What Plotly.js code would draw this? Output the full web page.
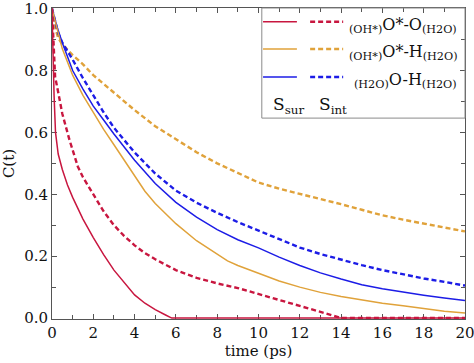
<!DOCTYPE html>
<html>
<head>
<meta charset="utf-8">
<script src="https://cdn.plot.ly/plotly-3.0.1.min.js"></script>
<style>html,body{margin:0;padding:0;background:#fff;}#chart{width:474px;height:363px;}</style>
</head>
<body>
<div id="chart"></div>
<script>
// ---- data ----
const tOOsur = [0, 0.05, 0.1, 0.17, 0.3, 0.5, 0.75, 1, 1.5, 2, 2.5, 3, 3.5, 4, 4.5, 5, 5.5, 5.8, 6, 20];
const cOOsur = [1.0, 0.85, 0.72, 0.6, 0.53, 0.48, 0.43, 0.39, 0.32, 0.26, 0.205, 0.155, 0.115, 0.075, 0.048, 0.027, 0.01, 0.0, 0, 0];
const tOOint = [0, 0.1, 0.15, 0.3, 0.5, 0.85, 1.25, 1.5, 2, 2.5, 3, 3.5, 4, 4.5, 5, 6, 7, 8, 9, 10, 11, 12, 13, 14, 20];
const cOOint = [1.0, 0.83, 0.78, 0.73, 0.66, 0.575, 0.49, 0.455, 0.40, 0.345, 0.30, 0.265, 0.235, 0.21, 0.19, 0.155, 0.13, 0.112, 0.097, 0.078, 0.06, 0.04, 0.02, 0.0, 0];
const tOHsur = [0, 0.25, 0.5, 1, 1.5, 2, 2.5, 3, 3.5, 4, 4.5, 5, 6, 7, 8, 8.5, 9, 10, 11, 12, 13, 14, 15, 16, 17, 18, 19, 20];
const cOHsur = [1.0, 0.93, 0.87, 0.785, 0.72, 0.665, 0.61, 0.56, 0.51, 0.46, 0.41, 0.37, 0.305, 0.25, 0.205, 0.185, 0.17, 0.145, 0.12, 0.10, 0.083, 0.07, 0.058, 0.048, 0.04, 0.03, 0.022, 0.016];
const tOHint = [0, 0.1, 0.3, 0.5, 1, 1.5, 2, 3, 4, 5, 6, 7, 8, 9, 10, 11, 12, 13, 14, 15, 16, 17, 18, 19, 20];
const cOHint = [1.0, 0.95, 0.905, 0.885, 0.85, 0.82, 0.785, 0.728, 0.672, 0.62, 0.577, 0.536, 0.5, 0.468, 0.438, 0.418, 0.402, 0.385, 0.368, 0.35, 0.332, 0.318, 0.306, 0.293, 0.28];
const tHHsur = [0, 0.25, 0.5, 1, 1.5, 2, 2.5, 3, 4, 5, 6, 7, 8, 9, 10, 11, 12, 13, 14, 15, 16, 17, 18, 19, 20];
const cHHsur = [1.0, 0.94, 0.89, 0.8, 0.74, 0.685, 0.64, 0.595, 0.51, 0.435, 0.374, 0.326, 0.286, 0.253, 0.227, 0.197, 0.17, 0.146, 0.126, 0.108, 0.095, 0.084, 0.074, 0.065, 0.057];
const tHHint = [0, 0.3, 0.5, 1, 1.5, 2, 2.5, 3, 4, 5, 6, 7, 8, 9, 10, 11, 12, 13, 14, 15, 16, 17, 18, 19, 20];
const cHHint = [1.0, 0.92, 0.89, 0.835, 0.775, 0.72, 0.665, 0.615, 0.535, 0.467, 0.412, 0.373, 0.34, 0.31, 0.283, 0.255, 0.228, 0.207, 0.188, 0.171, 0.155, 0.141, 0.128, 0.117, 0.105];

const legendLabels = [
  '<sub>(OH*)</sub>O*-O<sub>(H2O)</sub>',
  '<sub>(OH*)</sub>O*-H<sub>(H2O)</sub>',
  '<sub>(H2O)</sub>O-H<sub>(H2O)</sub>'
];
const styleLabels = ['S<sub>sur</sub>', 'S<sub>int</sub>'];
const xTickVals = [0, 2, 4, 6, 8, 10, 12, 14, 16, 18, 20];
const yTickVals = [0, 0.2, 0.4, 0.6, 0.8, 1.0];

// ---- styling ----
const RED = '#c8163f', ORANGE = '#e0a23a', BLUE = '#1c1ce6';
const colors = [RED, ORANGE, BLUE];
const DASH = '5px,3px';
const FONT = 'DejaVu Serif';

function solid(x, y, c) { return {x, y, type: 'scatter', mode: 'lines', line: {color: c, width: 1.5}, showlegend: false, hoverinfo: 'skip'}; }
function dashed(x, y, c) { return {x, y, type: 'scatter', mode: 'lines', line: {color: c, width: 2.4, dash: DASH}, showlegend: false, hoverinfo: 'skip'}; }

const traces = [
  dashed(tOHint, cOHint, ORANGE),
  dashed(tHHint, cHHint, BLUE),
  solid(tHHsur, cHHsur, BLUE),
  solid(tOHsur, cOHsur, ORANGE),
  dashed(tOOint, cOOint, RED),
  solid(tOOsur, cOOsur, RED)
];

// manual legend (two line samples per entry)
const rowY = [0.956, 0.868, 0.778];
const shapes = [{type: 'rect', xref: 'paper', yref: 'paper', x0: 0.508, x1: 1.0, y0: 0.646, y1: 1.0, line: {color: '#8a8a8a', width: 1}, fillcolor: 'rgba(0,0,0,0)'}];
const annotations = [];
rowY.forEach((y, i) => {
  shapes.push({type: 'line', xref: 'paper', yref: 'paper', x0: 0.511, x1: 0.593, y0: y, y1: y, line: {color: colors[i], width: 1.5}});
  shapes.push({type: 'line', xref: 'paper', yref: 'paper', x0: 0.625, x1: 0.705, y0: y, y1: y, line: {color: colors[i], width: 2.4, dash: DASH}});
  annotations.push({xref: 'paper', yref: 'paper', x: i === 2 ? 0.727 : 0.714, y: y - 0.012, xanchor: 'left', yanchor: 'middle', text: legendLabels[i], showarrow: false, font: {family: FONT, size: 16, color: '#111'}});
});
annotations.push({xref: 'paper', yref: 'paper', x: 0.530, y: 0.688, xanchor: 'left', yanchor: 'middle', text: styleLabels[0], showarrow: false, font: {family: FONT, size: 17, color: '#111'}});
annotations.push({xref: 'paper', yref: 'paper', x: 0.641, y: 0.688, xanchor: 'left', yanchor: 'middle', text: styleLabels[1], showarrow: false, font: {family: FONT, size: 17, color: '#111'}});

const axisCommon = {
  showline: true, linecolor: '#555', linewidth: 1, mirror: 'ticks',
  ticks: 'inside', ticklen: 5, tickwidth: 1, tickcolor: '#555',
  showgrid: false, zeroline: false, layer: 'below traces',
  ticklabeloverflow: 'allow',
  tickfont: {family: FONT, size: 15, color: '#111'}
};

const layout = {
  width: 474, height: 363,
  margin: {l: 52, r: 9, t: 8, b: 44},
  paper_bgcolor: '#fff', plot_bgcolor: '#fff',
  font: {family: FONT, size: 15, color: '#111'},
  showlegend: false,
  xaxis: Object.assign({}, axisCommon, {
    range: [0, 20.001], tickvals: xTickVals, ticktext: xTickVals.map(String),
    minor: {ticks: 'inside', dtick: 1, ticklen: 4, tickcolor: '#555'},
    title: {text: 'time (ps)', font: {family: FONT, size: 15, color: '#111'}, standoff: 4}
  }),
  yaxis: Object.assign({}, axisCommon, {
    range: [-0.003, 1.002], tickvals: yTickVals, ticktext: yTickVals.map(v => v.toFixed(1)),
    minor: {ticks: 'inside', dtick: 0.1, ticklen: 4, tickcolor: '#555'},
    title: {text: 'C(t)', font: {family: FONT, size: 15, color: '#111'}, standoff: 10}
  }),
  shapes, annotations
};

Plotly.newPlot('chart', traces, layout, {staticPlot: true, displayModeBar: false});
</script>
</body>
</html>
